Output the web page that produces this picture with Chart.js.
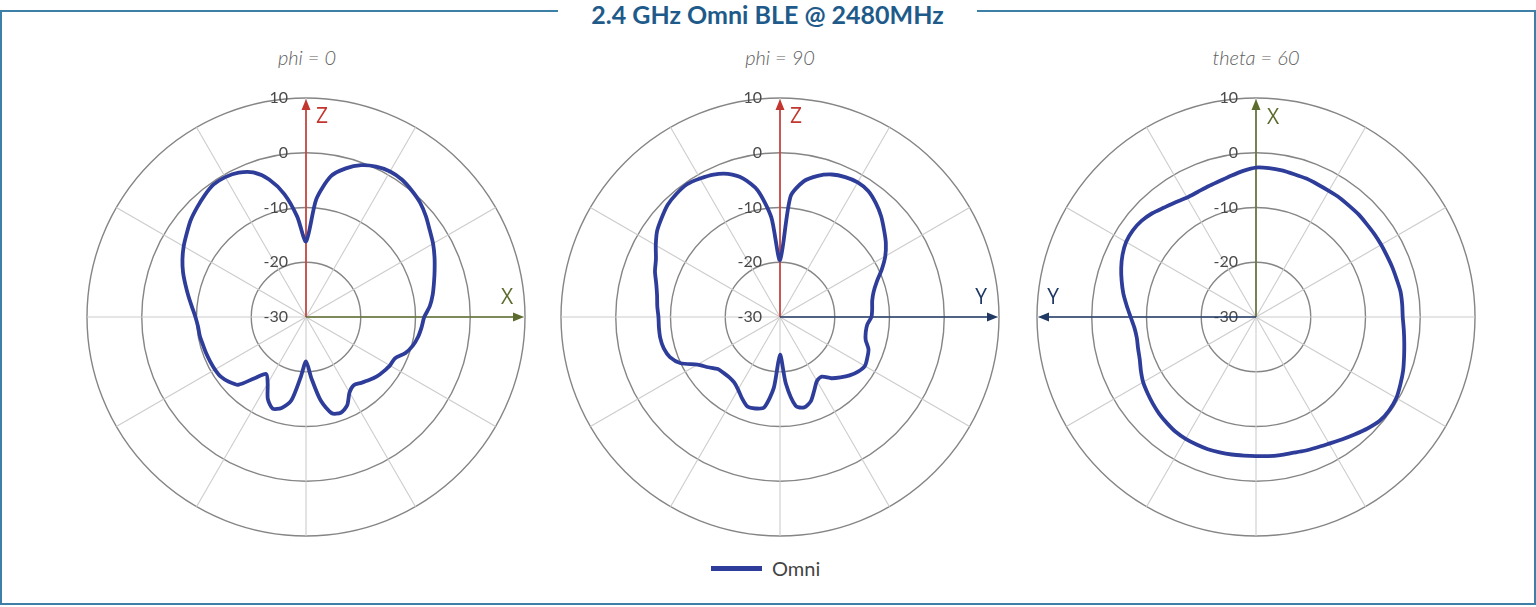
<!DOCTYPE html>
<html>
<head>
<meta charset="utf-8">
<title>2.4 GHz Omni BLE @ 2480MHz</title>
<script src="https://cdn.jsdelivr.net/npm/chart.js@4.4.1/dist/chart.umd.min.js"></script>
<style>
  body { margin: 0; background: #fff; font-family: Lato, 'Open Sans', sans-serif; }
  .page { position: relative; width: 1536px; height: 607px; overflow: hidden; }
  .frame { position: absolute; left: 0; top: 10px; width: 1536px; height: 595px; box-sizing: border-box; border: 2px solid #3d7fa6; }
  .title { position: absolute; left: 558px; top: 0; width: 419px; line-height: 28px; text-align: center; background: #fff;
           font-weight: 700; font-size: 25px; color: #1e5b8a; }
  .sub { position: absolute; top: 44px; width: 300px; margin-left: -150px; line-height: 26px; text-align: center;
         font-style: italic; font-weight: 300; font-size: 20px; color: #5e5e5e; }
  .box { position: absolute; top: 87px; width: 460px; height: 460px; }
  .legend { position: absolute; left: 711px; top: 555px; height: 26px; line-height: 26px; font-size: 20px; color: #444; }
  .legend .swatch { display: inline-block; width: 51px; height: 5px; background: #2e3d99; vertical-align: middle; margin-right: 10px; position: relative; top: -2px; }
</style>
</head>
<body>
<div class="page">
  <div class="frame"></div>
  <div class="title">2.4 GHz Omni BLE @ 2480MHz</div>

  <div class="sub" style="left:307px">phi = 0</div>
  <div class="sub" style="left:780px">phi = 90</div>
  <div class="sub" style="left:1256px">theta = 60</div>

  <div class="box" style="left:76px"><canvas id="phi0"></canvas></div>
  <div class="box" style="left:550px"><canvas id="phi90"></canvas></div>
  <div class="box" style="left:1026px"><canvas id="theta60"></canvas></div>

  <div class="legend"><span class="swatch"></span>Omni</div>
</div>

<script>
// angle of each sample, degrees clockwise from the top axis of the plot
const angles = [0, 5, 10, 15, 20, 25, 30, 35, 40, 45, 50, 55,
  60, 65, 70, 75, 80, 85, 90, 95, 100, 105, 110, 115,
  120, 125, 130, 135, 140, 145, 150, 155, 160, 165, 170, 175,
  180, 185, 190, 195, 200, 205, 210, 215, 220, 225, 230, 235,
  240, 245, 250, 255, 260, 265, 270, 275, 280, 285, 290, 295,
  300, 305, 310, 315, 320, 325, 330, 335, 340, 345, 350, 355];

// gain in dB
const phi0 = [-16.2, -8.4, -3.9, -1.9, -0.5, 0.3, 0.7, 0.6, 0.1, -0.5, -1.4, -2.4,
  -3.2, -4.1, -5.0, -5.8, -6.5, -7.3, -8.4, -8.8, -9.2, -9.8, -10.7, -12.1,
  -12.3, -12.7, -13.1, -13.7, -14.3, -14.8, -14.1, -12.2, -11.4, -11.8, -14.5, -18.8,
  -21.9, -19.0, -14.5, -12.8, -12.2, -13.5, -16.0, -17.3, -15.4, -12.5, -11.6, -11.0,
  -10.8, -10.7, -10.6, -10.5, -10.3, -10.2, -9.8, -9.1, -8.2, -7.2, -6.1, -5.1,
  -4.2, -3.4, -2.5, -1.8, -1.1, -0.5, -0.5, -0.9, -1.9, -4.0, -7.2, -11.6];

const phi90 = [-19.6, -7.9, -4.8, -3.3, -2.3, -1.8, -1.6, -1.9, -2.8, -3.9, -5.2, -6.4,
  -7.8, -9.5, -11.2, -12.3, -12.9, -13.1, -13.3, -14.0, -14.1, -13.8, -12.8, -12.4,
  -12.1, -12.6, -13.4, -14.4, -15.4, -16.7, -16.5, -15.2, -13.6, -12.9, -13.5, -17.8,
  -23.1, -17.0, -13.2, -12.7, -12.6, -13.6, -14.7, -15.4, -15.6, -15.5, -15.2, -14.0,
  -12.6, -10.0, -8.6, -8.0, -7.8, -7.8, -7.8, -7.5, -7.2, -6.6, -5.7, -5.0,
  -3.8, -2.6, -1.8, -1.0, -0.6, -0.4, -0.8, -1.3, -2.2, -3.8, -6.5, -11.7];

// top axis is X, the Y axis points left
const theta60 = [-2.7, -2.7, -2.8, -3.0, -3.1, -3.3, -3.4, -3.4, -3.5, -3.5, -3.6, -3.6,
  -3.6, -3.6, -3.5, -3.4, -3.2, -3.2, -3.2, -2.9, -2.5, -2.0, -1.4, -0.9,
  -0.4, -0.3, -0.5, -1.2, -2.0, -2.7, -3.3, -3.7, -4.0, -4.3, -4.4, -4.5,
  -4.6, -4.6, -4.5, -4.4, -4.3, -4.3, -4.3, -4.4, -4.7, -5.0, -5.4, -5.8,
  -6.2, -6.8, -7.4, -7.7, -7.9, -7.7, -7.1, -6.3, -5.4, -4.6, -3.8, -3.1,
  -2.6, -2.5, -2.7, -3.2, -3.9, -4.4, -4.8, -4.8, -4.6, -4.3, -3.8, -3.2];

const rTicks = [-30, -20, -10, 0, 10];

const RED = '#c3352f';
const OLIVE = '#5c6b2e';
const NAVY = '#1f3864';
const CURVE = '#2e3d99';

// dB labels, drawn left of the vertical axis
const dbLabels = {
  id: 'dbLabels',
  beforeDatasetsDraw(chart) {
    const r = chart.scales.r;
    const ctx = chart.ctx;
    ctx.save();
    ctx.font = '16px Lato, sans-serif';
    ctx.fillStyle = '#4a4a4a';
    ctx.textAlign = 'right';
    ctx.textBaseline = 'middle';
    rTicks.forEach(v => {
      ctx.fillText(String(v), r.xCenter - 18, r.yCenter - r.getDistanceFromCenterForValue(v));
    });
    ctx.restore();
  }
};

// coordinate axes with arrow heads
function axisArrows(arrows) {
  return {
    id: 'axisArrows',
    beforeDatasetsDraw(chart) {
      const r = chart.scales.r;
      const ctx = chart.ctx;
      const len = r.drawingArea - 1;
      arrows.forEach(a => {
        const x0 = r.xCenter, y0 = r.yCenter;
        const x1 = x0 + a.dx * len, y1 = y0 + a.dy * len;
        const px = -a.dy, py = a.dx;
        ctx.save();
        ctx.strokeStyle = a.color;
        ctx.fillStyle = a.color;
        ctx.lineWidth = 1.6;
        ctx.beginPath();
        ctx.moveTo(x0, y0);
        ctx.lineTo(x1 - a.dx * 8, y1 - a.dy * 8);
        ctx.stroke();
        ctx.beginPath();
        ctx.moveTo(x1, y1);
        ctx.lineTo(x1 - a.dx * 11 + px * 4.5, y1 - a.dy * 11 + py * 4.5);
        ctx.lineTo(x1 - a.dx * 11 - px * 4.5, y1 - a.dy * 11 - py * 4.5);
        ctx.closePath();
        ctx.fill();
        ctx.font = '21px "Open Sans", sans-serif';
        ctx.textAlign = 'center';
        ctx.textBaseline = 'middle';
        ctx.fillText(a.label, x1 + a.lx, y1 + a.ly);
        ctx.restore();
      });
    }
  };
}

function polar(id, values, arrows) {
  new Chart(document.getElementById(id), {
    type: 'radar',
    data: {
      labels: angles,
      datasets: [{
        label: 'Omni',
        data: values,
        borderColor: CURVE,
        borderWidth: 3.8,
        pointRadius: 0,
        fill: false,
        tension: 0.25
      }]
    },
    options: {
      responsive: true,
      maintainAspectRatio: false,
      animation: false,
      events: [],
      layout: { padding: 11 },
      plugins: {
        legend: { display: false },
        tooltip: { enabled: false }
      },
      scales: {
        r: {
          min: -30,
          max: 10,
          ticks: { stepSize: 10, display: false },
          pointLabels: { display: false },
          grid: { circular: true, color: '#858585', lineWidth: 1.4 },
          angleLines: {
            color: '#cccccc',
            lineWidth: c => (c.index % 6 === 0 ? 1.1 : 0)
          }
        }
      }
    },
    plugins: [dbLabels, axisArrows(arrows)]
  });
}

polar('phi0', phi0, [
  { label: 'Z', color: RED, dx: 0, dy: -1, lx: 16, ly: 18 },
  { label: 'X', color: OLIVE, dx: 1, dy: 0, lx: -17, ly: -19 }
]);
polar('phi90', phi90, [
  { label: 'Z', color: RED, dx: 0, dy: -1, lx: 16, ly: 18 },
  { label: 'Y', color: NAVY, dx: 1, dy: 0, lx: -17, ly: -19 }
]);
polar('theta60', theta60, [
  { label: 'X', color: OLIVE, dx: 0, dy: -1, lx: 17, ly: 19 },
  { label: 'Y', color: NAVY, dx: -1, dy: 0, lx: 15, ly: -19 }
]);
</script>
</body>
</html>
